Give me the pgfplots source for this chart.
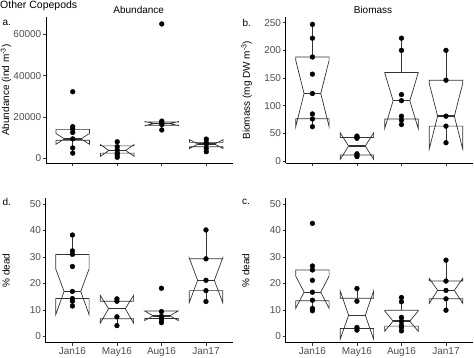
\documentclass[border=0pt]{standalone}
\usepackage{pgfplots}
\pgfplotsset{compat=1.18}
\usepackage{fontspec}
\setmainfont{Liberation Sans}
\definecolor{g20}{HTML}{333333}
\definecolor{g30}{HTML}{4D4D4D}
\pgfplotsset{
 bx/.style={draw=g20, line width=0.7pt, mark=none, forget plot},
 md/.style={draw=g20, line width=1.4pt, mark=none, forget plot},
 pts/.style={only marks, mark=*, mark size=2.4pt, black, forget plot},
 panel/.style={scale only axis, axis lines=left,
   axis line style={-, line width=0.7pt, black},
   tick align=outside, major tick length=3pt,
   tick style={g20, line width=0.7pt},
   xmin=0.4, xmax=4.6, xtick={1,2,3,4},
   ticklabel style={font=\fontsize{10}{12}\selectfont, text=g30},
   /pgf/number format/assume math mode=true,
   scaled y ticks=false,
   y tick label style={/pgf/number format/1000 sep={}, inner xsep=1.5pt},
   x tick label style={inner ysep=2pt},
   width=187pt, height=145.5pt, clip=false},
}
% x, lower, upper, middle, notchlower, notchupper, whiskerlow, whiskerhigh
\newcommand{\nbox}[8]{%
 \pgfmathsetmacro\xl{#1-0.375}\pgfmathsetmacro\xr{#1+0.375}%
 \pgfmathsetmacro\il{#1-0.1875}\pgfmathsetmacro\ir{#1+0.1875}%
 \edef\nboxtmp{%
 \noexpand\addplot[bx] coordinates {(#1,#3) (#1,#8)};
 \noexpand\addplot[bx] coordinates {(#1,#2) (#1,#7)};
 \noexpand\addplot[bx] coordinates {(\xl,#2) (\xl,#5) (\il,#4) (\xl,#6) (\xl,#3) (\xr,#3) (\xr,#6) (\ir,#4) (\xr,#5) (\xr,#2) (\xl,#2)};
 \noexpand\addplot[md] coordinates {(\il,#4) (\ir,#4)};
 }\nboxtmp}
\begin{document}
\begin{tikzpicture}[x=1pt,y=1pt]
\path[use as bounding box] (0,0) rectangle (474,358);
\def\fs{\fontsize{10}{12}\selectfont}
% ---------- a. Abundance
\begin{axis}[panel, at={(46pt,195pt)}, anchor=south west,
  ymin=-2274, ymax=68130, ytick={0,20000,40000,60000}, xticklabels={}]
\nbox{1}{8700}{14000}{9400}{6800}{12000}{2500}{15300}
\nbox{2}{2500}{6000}{3800}{1000}{6600}{500}{8000}
\nbox{3}{16000}{17600}{16800}{15800}{17800}{13700}{18000}
\nbox{4}{5600}{7700}{6900}{4700}{9000}{3200}{9300}
\addplot[pts] coordinates {(1,32200) (1,15300) (1,14200) (1,12500) (1,9400) (1,5000) (1,2500)
 (2,8000) (2,5600) (2,4000) (2,2700) (2,1600) (2,500)
 (3,65000) (3,18000) (3,17300) (3,16800) (3,16300) (3,13700)
 (4,9300) (4,7700) (4,6800) (4,4800) (4,3200)};
\end{axis}
% ---------- b. Biomass
\begin{axis}[panel, at={(285.7pt,195pt)}, anchor=south west,
  ymin=-3.6, ymax=259.4, ytick={0,50,100,150,200,250}, xticklabels={}]
\nbox{1}{76.5}{188}{122}{62}{182}{62}{247}
\nbox{2}{11}{42.5}{27}{3}{51}{8}{45}
\nbox{3}{76}{160}{109}{59}{159}{66}{222}
\nbox{4}{63}{146}{81}{22}{140}{33}{200}
\addplot[pts] coordinates {(1,247) (1,222) (1,188) (1,157) (1,122) (1,85) (1,76) (1,62)
 (2,45) (2,43) (2,41) (2,13) (2,11) (2,8)
 (3,222) (3,200) (3,120) (3,109) (3,81) (3,74) (3,66)
 (4,200) (4,146) (4,81) (4,63) (4,33)};
\end{axis}
% ---------- d. % dead (abundance)
\begin{axis}[panel, at={(45.7pt,15.3pt)}, anchor=south west, height=144.4pt,
  ymin=-2.35, ymax=52.15, ytick={0,10,20,30,40,50},
  xticklabels={Jan16,May16,Aug16,Jan17}]
\nbox{1}{14.3}{30.9}{17}{8.2}{25.5}{11.5}{38.3}
\nbox{2}{6.7}{13.3}{10.5}{5}{15.5}{4.1}{14.2}
\nbox{3}{6.8}{9.6}{7.8}{6.0}{9.6}{5.0}{9.6}
\nbox{4}{17.3}{29.3}{21.2}{12.8}{29.6}{13.2}{40.2}
\addplot[pts] coordinates {(1,38.3) (1,32.3) (1,31) (1,26.4) (1,17) (1,14.3) (1,13.3) (1,11.5)
 (2,14.2) (2,13.3) (2,7.4) (2,4.1)
 (3,18.2) (3,9.4) (3,7.6) (3,7.0) (3,6.2) (3,5.2)
 (4,40.2) (4,29.3) (4,21.2) (4,17.3) (4,13.2)};
\end{axis}
% ---------- c. % dead (biomass)
\begin{axis}[panel, at={(285.7pt,15.3pt)}, anchor=south west, height=144.4pt,
  ymin=-2.35, ymax=52.15, ytick={0,10,20,30,40,50},
  xticklabels={Jan16,May16,Aug16,Jan17}]
\nbox{1}{13.5}{25.1}{16.7}{10.6}{22.8}{9.7}{26.6}
\nbox{2}{3.0}{14.4}{8.0}{-1.0}{17.2}{2.4}{18.1}
\nbox{3}{3.9}{9.9}{5.8}{2.0}{9.6}{2.1}{14.7}
\nbox{4}{14.2}{20.9}{17.4}{12.5}{21.9}{9.9}{28.8}
\addplot[pts] coordinates {(1,42.7) (1,26.6) (1,25.1) (1,21.2) (1,16.7) (1,13.7) (1,10.6) (1,9.7)
 (2,18.1) (2,13.3) (2,3.4) (2,2.4)
 (3,14.7) (3,13.1) (3,7.2) (3,5.8) (3,4.3) (3,3.4) (3,2.1)
 (4,28.8) (4,20.9) (4,17.4) (4,14.2) (4,9.9)};
\end{axis}
% ---------- texts
\node[anchor=west, font=\fontsize{10.5}{12}\selectfont, inner sep=0pt] at (0,352.3) {Other Copepods};
\node[font=\fs, inner sep=0pt] at (138.7,348) {Abundance};
\node[font=\fs, inner sep=0pt] at (373,348) {Biomass};
\node[font=\fs, inner sep=0pt] at (6.7,334.7) {a.};
\node[font=\fs, inner sep=0pt] at (246.8,334.7) {b.};
\node[font=\fs, inner sep=0pt] at (6.7,156.3) {d.};
\node[font=\fs, inner sep=0pt] at (246,156.3) {c.};
\node[rotate=90, font=\fs, inner sep=0pt] at (6,267.8) {Abundance (ind m\textsuperscript{-3})};
\node[rotate=90, font=\fs, inner sep=0pt] at (246.7,267.8) {Biomass (mg DW m\textsuperscript{-3})};
\node[rotate=90, font=\fs, inner sep=0pt] at (6,87.5) {\% dead};
\node[rotate=90, font=\fs, inner sep=0pt] at (245.7,87.5) {\% dead};
\end{tikzpicture}
\end{document}
